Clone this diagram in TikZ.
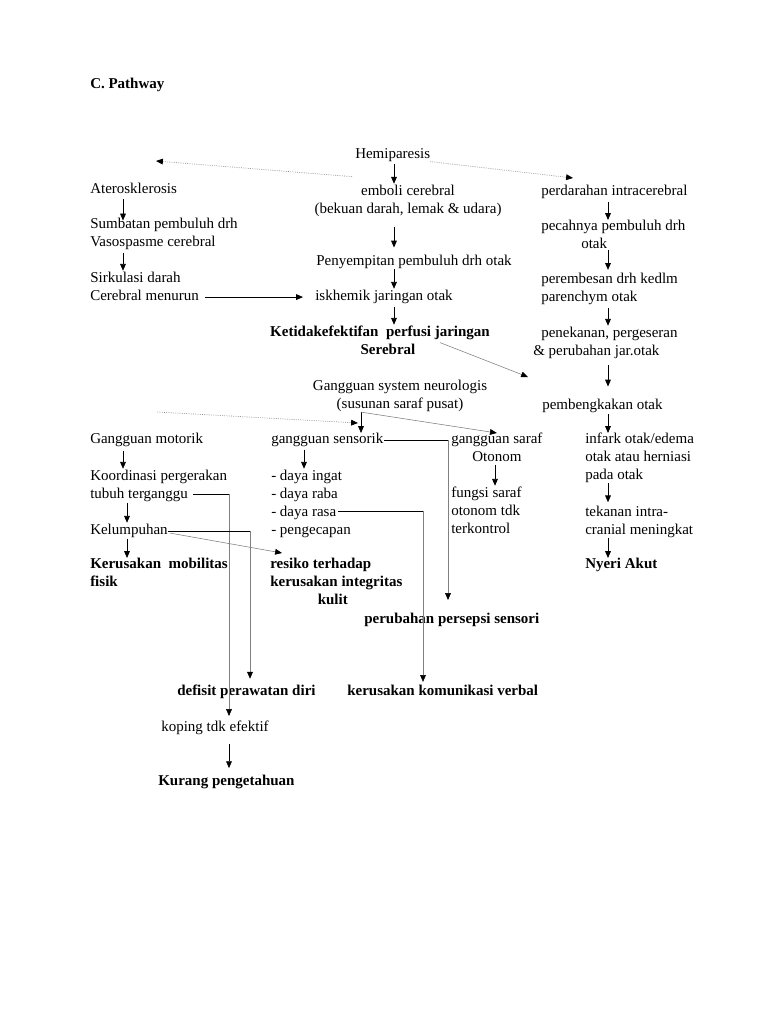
\documentclass[tikz,border=0pt]{standalone}
\usepackage{fontspec}
\setmainfont{Liberation Serif}
\usepackage{tikz}
\usetikzlibrary{arrows.meta, calc}
\colorlet{line-gray}{black!50}
\tikzset{
    txt/.style = {anchor=north west, inner sep=0pt, align=left,
        font=\fontsize{12}{14.4}\selectfont},
    bold/.style = {txt, font=\fontsize{12}{14.4}\selectfont\bfseries},
    arr/.style = {-{Triangle[length=5.5pt,width=4.6pt]}, line width=0.6pt,
        shorten <=2pt, shorten >=1pt},
    garr/.style = {-{Triangle[length=5.5pt,width=4.6pt,color=black]}, line-gray, line width=0.45pt},
    hline/.style = {black, line width=0.6pt},
}

\begin{document}
\begin{tikzpicture}[x=0.8pt, y=-0.8pt]
    \path[use as bounding box] (0,0) rectangle (768,1024);
    % columns of the short arrows
    \coordinate (cA) at (123,0);
    \coordinate (cB) at (127,0);
    \coordinate (cM) at (394,0);
    \coordinate (cR) at (608,0);
    \coordinate (cS) at (304,0);
    \coordinate (cN) at (361,0);
    \coordinate (cO) at (495,0);
    \coordinate (cK) at (229,0);
    \coordinate (cD) at (250,0);
    \coordinate (cV) at (423,0);
    \coordinate (cP) at (448,0);

    \node[bold] (title) at (90,78) {C. Pathway};
    \node[txt] (hemi) at (355,148) {Hemiparesis};

    \node[txt] (ater) at (90,183) {Aterosklerosis};
    \node[txt] (sumb) at (90,218) {Sumbatan pembuluh drh\\Vasospasme cerebral};
    \node[txt] (sirk) at (90,272) {Sirkulasi darah\\Cerebral menurun};

    \node[txt, anchor=north, align=center] (emboli) at (408,185) {emboli cerebral\\(bekuan darah, lemak \& udara)};
    \node[txt] (peny) at (316,255) {Penyempitan pembuluh drh otak};
    \node[txt] (isk) at (315,290) {iskhemik jaringan otak};
    \node[bold, anchor=north, align=center] (keti) at (380,326) {Ketidakefektifan\ \ perfusi jaringan\\\hspace*{12.8pt}Serebral};

    \node[txt] (perd) at (541,185) {perdarahan intracerebral};
    \node[txt] (pecah) at (541,220) {pecahnya pembuluh drh\\\hspace*{32pt}otak};
    \node[txt] (rembes) at (541,273) {perembesan drh kedlm\\parenchym otak};
    \node[txt] (tekan) at (533,327) {\hspace*{6.4pt}penekanan, pergeseran\\\& perubahan jar.otak};
    \node[txt] (bengkak) at (542,399) {pembengkakan otak};

    \node[txt, anchor=north, align=center] (neuro) at (400,380) {Gangguan system neurologis\\(susunan saraf pusat)};
    \node[txt] (motor) at (90,433) {Gangguan motorik};
    \node[txt] (sensor) at (271,433) {gangguan sensorik};
    \node[txt, align=center] (saraf) at (451,433) {gangguan saraf\\Otonom};
    \node[txt] (infark) at (585,433) {infark otak/edema\\otak atau herniasi\\pada otak};

    \node[txt] (koord) at (90,470) {Koordinasi pergerakan\\tubuh terganggu};
    \node[txt] (daya) at (271,470) {- daya ingat\\- daya raba\\- daya rasa\\- pengecapan};
    \node[txt] (fungsi) at (451,487) {fungsi saraf\\otonom tdk\\terkontrol};
    \node[txt] (tik) at (585,506) {tekanan intra-\\cranial meningkat};
    \node[txt] (lumpuh) at (90,524) {Kelumpuhan};

    \node[bold] (mobil) at (90,558) {Kerusakan\ \ mobilitas\\fisik};
    \node[bold] (resiko) at (270,558) {resiko terhadap\\kerusakan integritas\\\hspace*{38pt}kulit};
    \node[bold] (nyeri) at (585,558) {Nyeri Akut};
    \node[bold] (persepsi) at (364,613) {perubahan persepsi sensori};
    \node[bold] (defisit) at (177,685) {defisit perawatan diri};
    \node[bold] (verbal) at (347,685) {kerusakan komunikasi verbal};
    \node[txt] (koping) at (161,721) {koping tdk efektif};
    \node[bold] (kurang) at (158,775) {Kurang pengetahuan};

    % middle column
    \draw[arr] (hemi.south -| cM) -- (emboli.north -| cM);
    \draw[arr, shorten <=8pt, shorten >=6pt] (emboli.south -| cM) -- (peny.north -| cM);
    \draw[arr, shorten <=0pt] (peny.south -| cM) -- (isk.north -| cM);
    \draw[arr] (isk.south -| cM) -- (keti.north -| cM);
    \draw[arr, shorten <=5pt, shorten >=9.6pt] (isk.west -| sirk.east) -- (isk.west);

    % left column
    \draw[arr, shorten <=4pt, shorten >=-2pt] (ater.south -| cA) -- (sumb.north -| cA);
    \draw[arr] (sumb.south -| cA) -- (sirk.north -| cA);

    % right column
    \draw[arr, shorten <=2.5pt, shorten >=0pt] (perd.south -| cR) -- (pecah.north -| cR);
    \draw[arr, shorten <=1pt, shorten >=2.5pt] (pecah.south -| cR) -- (rembes.north -| cR);
    \draw[arr] (rembes.south -| cR) -- (tekan.north -| cR);
    \draw[arr, shorten <=5pt, shorten >=10pt] (tekan.south -| cR) -- (bengkak.north -| cR);
    \draw[arr, shorten <=0.5pt, shorten >=0pt] (bengkak.south -| cR) -- (infark.north -| cR);
    \draw[arr, shorten <=0pt, shorten >=3pt] (infark.south -| cR) -- (tik.north -| cR);
    \draw[arr, shorten <=0pt, shorten >=0pt] (tik.south -| cR) -- (nyeri.north -| cR);

    % thin grey arrows
    \coordinate (hemiL) at (156,161);
    \draw[garr, densely dotted, line width=0.6pt] ($(hemi.south west)+(-3,15)$) -- (hemiL);
    \draw[garr, densely dotted, line width=0.6pt] (hemi.south east) -- ($(perd.north west)+(32,-7)$);
    \draw[garr] ($(keti.east)+(-50,2)$) -- ($(bengkak.north west)+(-14,-22)$);

    % neurologis
    \draw[arr, shorten <=0pt, shorten >=0pt] (neuro.south -| cN) -- (sensor.north -| cN);
    \draw[garr] (neuro.south -| cN) -- (saraf.north);
    \coordinate (neuroL) at (157,412);
    \draw[garr, densely dotted, line width=0.6pt] (neuroL) -- ($(sensor.north -| cN)+(-3,-10)$);

    \draw[arr, shorten <=3pt] (motor.south -| cA) -- (koord.north -| cA);
    \draw[arr, shorten <=0.5pt] (koord.south -| cB) -- (lumpuh.north -| cB);
    \draw[arr, shorten <=0.5pt, shorten >=0pt] (lumpuh.south -| cB) -- (mobil.north -| cB);
    \draw[arr] (sensor.south -| cS) -- (daya.north -| cS);
    \draw[arr] (saraf.south -| cO) -- (fungsi.north -| cO);

    % long connectors
    \coordinate (tubuhR) at ($(koord.south west)+(103,-8)$);
    \draw[hline] (tubuhR) -- (tubuhR -| cK);
    \draw[garr, shorten >=4pt] (tubuhR -| cK) -- (koping.north -| cK);
    \draw[hline] (lumpuh.east) -- (lumpuh.east -| cD);
    \draw[garr, shorten >=5pt] (lumpuh.east -| cD) -- (defisit.north -| cD);
    \draw[garr] ($(lumpuh.east)+(2,2)$) -- ($(resiko.north west)+(12,-5)$);
    \coordinate (rasaR) at ($(daya.north west)+(67,41)$);
    \draw[hline] (rasaR) -- (rasaR -| cV);
    \draw[garr, shorten >=2.5pt] (rasaR -| cV) -- (verbal.north -| cV);
    \draw[hline] (sensor.east) -- (sensor.east -| cP);
    \draw[garr] (sensor.east -| cP) -- ($(persepsi.north -| cP)+(0,-13)$);
    \draw[arr, shorten <=7pt, shorten >=5.5pt] (koping.south -| cK) -- (kurang.north -| cK);
\end{tikzpicture}
\end{document}
